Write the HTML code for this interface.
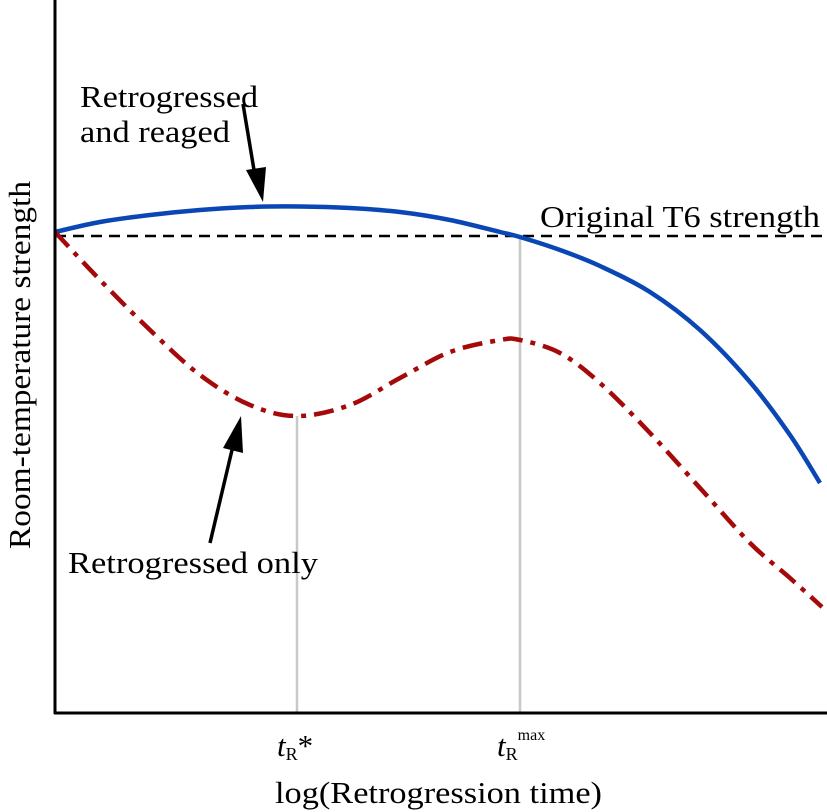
<!DOCTYPE html>
<html><head><meta charset="utf-8"><style>
body{margin:0;background:#fff}
svg{display:block;font-family:"Liberation Serif",serif}
</style></head><body>
<svg width="827" height="812" viewBox="0 0 827 812">
<g id="plot"></g>
<line x1="55" y1="0" x2="55" y2="714" stroke="#000" stroke-width="3"/>
<line x1="54" y1="713" x2="827" y2="713" stroke="#000" stroke-width="3"/>
<text x="30" y="365" font-size="31" text-anchor="middle" textLength="368" lengthAdjust="spacingAndGlyphs" transform="rotate(-90 30 365)">Room-temperature strength</text>
<text x="275" y="803" font-size="31" textLength="327" lengthAdjust="spacingAndGlyphs">log(Retrogression time)</text>
<text x="277" y="756" font-size="31" font-style="italic">t<tspan font-size="18" font-style="normal" dy="4">R</tspan><tspan font-style="normal" dy="-4">*</tspan></text>
<text x="497" y="756" font-size="31" font-style="italic">t<tspan font-size="18" font-style="normal" dy="4">R</tspan><tspan font-size="16" font-style="normal" dy="-20">max</tspan></text>
<text x="80" y="107" font-size="31" textLength="178" lengthAdjust="spacingAndGlyphs">Retrogressed</text>
<text x="80" y="142" font-size="31" textLength="150" lengthAdjust="spacingAndGlyphs">and reaged</text>
<g>
<line x1="243" y1="104" x2="254" y2="170" stroke="#000" stroke-width="3.5"/>
<polygon points="263,202 246,170 266,167" fill="#000"/>
</g>
<text x="540" y="227" font-size="31" textLength="280" lengthAdjust="spacingAndGlyphs">Original T6 strength</text>
<text x="68" y="573" font-size="31" textLength="250" lengthAdjust="spacingAndGlyphs">Retrogressed only</text>
<g>
<line x1="210" y1="543" x2="232" y2="450" stroke="#000" stroke-width="3.5"/>
<polygon points="241,416 243,453 223,448" fill="#000"/>
</g>
</svg>
<script>
const blueX=[0,45,95,145,195,245,295,345,395,445,465,505,545,595,645,695,735,765];
const blueY=[481,491,498,503,506,506.5,505,501,493,481,476,463,447,421,383,331,278,230];
const redX=[0,45,95,145,195,242,295,345,395,445,465,505,545,595,645,695,735,767];
const redY=[481,433,383,338,308,297,308,335,361,373,373,360,330,280,225,170,135,106];
const t6Y=[477];
const markerX=[242,465];
const sx=v=>55+v, sy=v=>713-v;
const g=document.getElementById('plot');
const NS='http://www.w3.org/2000/svg';
function smooth(X,Y){const p=X.map((x,i)=>[sx(x),sy(Y[i])]);let d=`M${p[0][0]},${p[0][1]}`;
for(let i=0;i<p.length-1;i++){const p0=p[i-1]||p[i],p1=p[i],p2=p[i+1],p3=p[i+2]||p2;
d+=` C${p1[0]+(p2[0]-p0[0])/6},${p1[1]+(p2[1]-p0[1])/6} ${p2[0]-(p3[0]-p1[0])/6},${p2[1]-(p3[1]-p1[1])/6} ${p2[0]},${p2[1]}`;}return d;}
function interp(X,Y,x){for(let i=0;i<X.length-1;i++){if(x>=X[i]&&x<=X[i+1]){return Y[i]+(Y[i+1]-Y[i])*(x-X[i])/(X[i+1]-X[i]);}}return Y[Y.length-1];}
const tops=[interp(redX,redY,markerX[0]),interp(blueX,blueY,markerX[1])];
markerX.forEach((m,i)=>{const l=document.createElementNS(NS,'line');
l.setAttribute('x1',sx(m));l.setAttribute('x2',sx(m));l.setAttribute('y1',sy(tops[i]));l.setAttribute('y2',713);
l.setAttribute('stroke','#c8c8c8');l.setAttribute('stroke-width','2.5');


g.appendChild(l);});
const t6=document.createElementNS(NS,'line');
t6.setAttribute('x1',55);t6.setAttribute('x2',822);t6.setAttribute('y1',sy(t6Y[0]));t6.setAttribute('y2',sy(t6Y[0]));
t6.setAttribute('stroke','#000');t6.setAttribute('stroke-width','2.5');t6.setAttribute('stroke-dasharray','11 7');


g.appendChild(t6);
const b=document.createElementNS(NS,'path');
b.setAttribute('d',smooth(blueX,blueY));b.setAttribute('fill','none');b.setAttribute('stroke','#0a46b4');b.setAttribute('stroke-width','4.5');


g.appendChild(b);
const r=document.createElementNS(NS,'path');
r.setAttribute('d',smooth(redX,redY));r.setAttribute('fill','none');r.setAttribute('stroke','#a50a0a');r.setAttribute('stroke-width','4.5');r.setAttribute('stroke-dasharray','20 8 5 8');


g.appendChild(r);
</script>
</body></html>
